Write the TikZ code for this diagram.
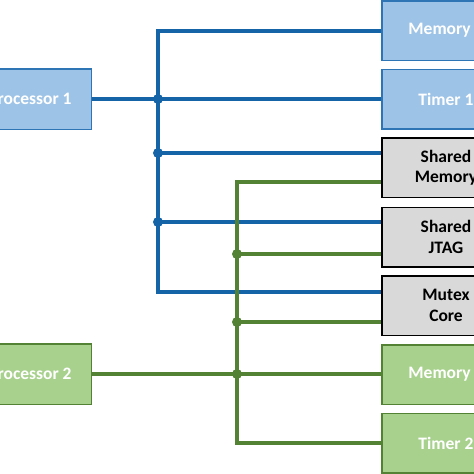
\documentclass[tikz,border=0pt]{standalone}
\usepackage{fontspec}
\setmainfont{Carlito}
\begin{document}
\begin{tikzpicture}[x=1pt,y=-1pt,
  box/.style={draw, line width=1pt, minimum width=128pt, minimum height=59pt, inner sep=0pt,
    font=\fontsize{17.5}{20.5}\selectfont\bfseries, align=center},
  bluebox/.style={box, draw=boxblue, fill=fillblue, text=white},
  greenbox/.style={box, draw=boxgreen, fill=fillgreen, text=white},
  graybox/.style={box, draw=black, fill=fillgray, text=black},
  procbox/.style={minimum width=122pt, minimum height=60pt},
  bline/.style={draw=lineblue, line width=3.7pt},
  gline/.style={draw=linegreen, line width=3.7pt},
  bdot/.style={fill=lineblue, draw=none},
  gdot/.style={fill=linegreen, draw=none}]
\definecolor{lineblue}{RGB}{22,100,168}
\definecolor{linegreen}{RGB}{84,130,53}
\definecolor{boxblue}{RGB}{46,117,182}
\definecolor{boxgreen}{RGB}{84,130,53}
\definecolor{fillblue}{RGB}{157,195,230}
\definecolor{fillgreen}{RGB}{169,209,142}
\definecolor{fillgray}{RGB}{217,217,217}
\useasboundingbox (0,0) rectangle (474,474);
\clip (0,0) rectangle (474,474);
\fill[white] (0,0) rectangle (474,474);

% nodes
\node[bluebox, procbox] (p1) at (30,99) {Processor 1};
\node[greenbox, procbox] (p2) at (30,374) {Processor 2};
\node[bluebox] (m1) at (446,30.5) {Memory\phantom{ 1}};
\node[bluebox] (t1) at (446,99) {Timer 1};
\node[graybox] (sm) at (446,167.5) {Shared\\Memory};
\node[graybox] (sj) at (446,237) {Shared\\JTAG};
\node[graybox] (mc) at (446,305.5) {Mutex\\Core};
\node[greenbox] (m2) at (446,374.5) {Memory\phantom{ 2}};
\node[greenbox] (t2) at (446,443) {Timer 2};

% junction coordinates
\coordinate (bt) at (158,31);
\coordinate (bp) at (158,99);
\coordinate (bs) at (158,153);
\coordinate (bj) at (158,222);
\coordinate (bm) at (158,292);
\coordinate (gt) at (237,182);
\coordinate (gj) at (237,254);
\coordinate (gm) at (237,322);
\coordinate (gp) at (237,374);
\coordinate (gb) at (237,443);

% blue bus
\draw[bline] (m1.west |- bt) -- (bt) -- (bm) -- (mc.west |- bm);
\draw[bline] (p1.east |- bp) -- (t1.west |- bp);
\draw[bline] (bs) -- (sm.west |- bs);
\draw[bline] (bj) -- (sj.west |- bj);
\foreach \c in {bp,bs,bj} \fill[bdot] (\c) circle (5pt);

% green bus
\draw[gline] (sm.west |- gt) -- (gt) -- (gb) -- (t2.west |- gb);
\draw[gline] (gj) -- (sj.west |- gj);
\draw[gline] (gm) -- (mc.west |- gm);
\draw[gline] (p2.east |- gp) -- (m2.west |- gp);
\foreach \c in {gj,gm,gp} \fill[gdot] (\c) circle (5pt);

% redraw box borders over line ends
\foreach \n/\col in {m1/boxblue,t1/boxblue,sm/black,sj/black,mc/black,m2/boxgreen,t2/boxgreen,p1/boxblue,p2/boxgreen}
  \draw[\col, line width=1pt] (\n.north west) rectangle (\n.south east);
\end{tikzpicture}
\end{document}
